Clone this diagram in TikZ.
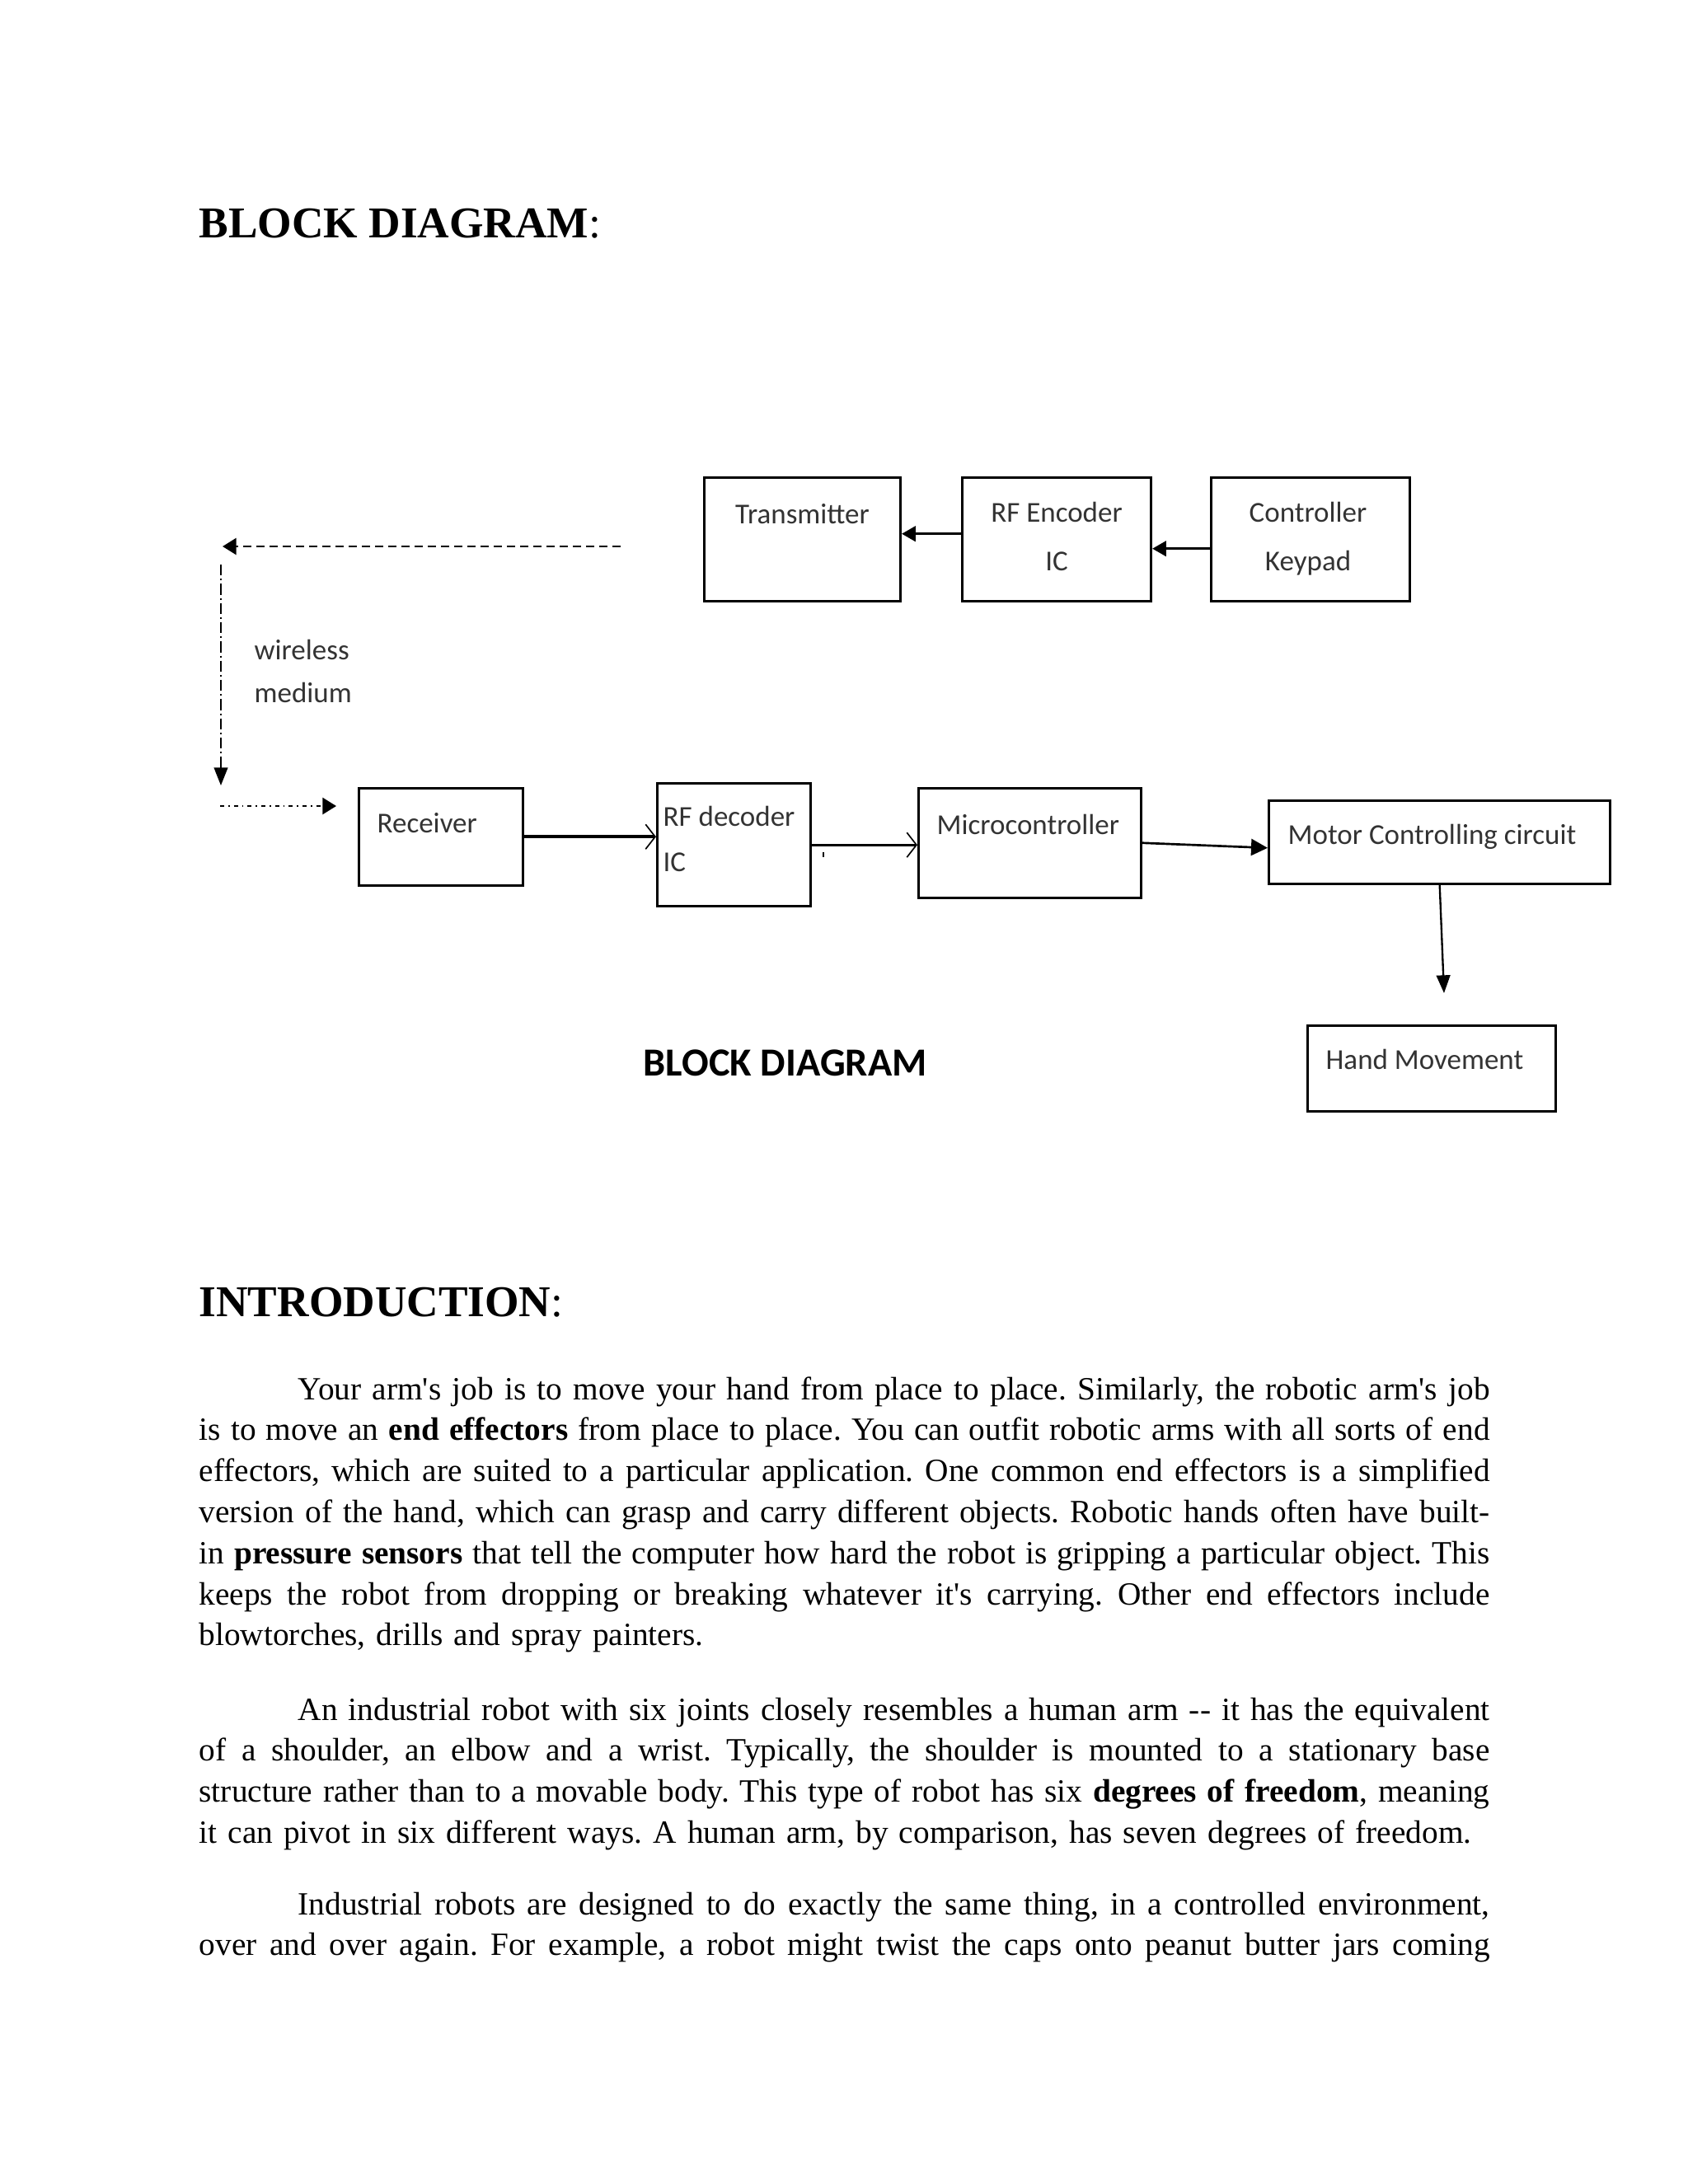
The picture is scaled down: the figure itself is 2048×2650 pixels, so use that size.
\documentclass[tikz,border=0pt]{standalone}
\usepackage{fontspec}
\setmainfont{Liberation Serif}
\newfontfamily\blockfont{Carlito}
\usetikzlibrary{arrows.meta, calc, positioning}
\newcommand{\px}[1]{#1*0.29883pt}
\newcommand{\apos}{\textquotesingle}
\newcommand{\jline}[1]{\hbox to \linewidth{\spaceskip=0.25em plus 0.4em minus 0.1em\relax #1}}
\frenchspacing
\tikzset{
  blk/.style        = {draw, line width=0.9pt, inner sep=0pt, anchor=north west},
  btxt/.style       = {font=\blockfont\fontsize{10.5pt}{12pt}\selectfont, text=black!80, inner sep=0pt},
  head/.style       = {font=\fontsize{16pt}{19pt}\selectfont, inner sep=0pt, anchor=base west},
  para/.style       = {font=\fontsize{11.8pt}{14.94pt}\selectfont, text width=6.5in, inner sep=0pt, anchor=base west},
  solidarrow/.style = {-{Triangle[length=5pt, width=5.5pt]}, line width=0.8pt},
  barbarrow/.style  = {-{Straight Barb[length=3.5pt, width=9pt, line width=0.5pt]}, line width=0.9pt},
  airdash/.style    = {dash pattern=on 3pt off 1.8pt, line width=0.8pt},
  airdrop/.style    = {dash pattern=on 4pt off 1.2pt on 0.6pt off 1.2pt, line width=0.6pt},
  airdot/.style     = {dash pattern=on 1.5pt off 1.5pt on 0.5pt off 1.5pt, line width=0.8pt},
}

\begin{document}
\begin{tikzpicture}[x=0.010542cm, y=-0.010542cm]
  \useasboundingbox[fill=white] (0,0) rectangle (2048,2650);

  % headings
  \node[head] (hblock) at (241,288) {\textbf{BLOCK DIAGRAM}:};
  \node[head] (hintro) at (241,1597) {\textbf{INTRODUCTION}:};

  % transmitter side
  \node[blk, minimum width=\px{239}, minimum height=\px{151}] (tx) at (853,578) {};
  \node[blk, minimum width=\px{230}, minimum height=\px{151}] (enc) at (1166,578) {};
  \node[blk, minimum width=\px{242}, minimum height=\px{151}] (kp) at (1468,578) {};
  \node[btxt, anchor=base] (txname) at ($(tx.north)+(0,57)$) {Transmitter};
  \node[btxt, anchor=base] (encname) at ($(enc.north)+(0,55)$) {RF Encoder};
  \node[btxt, anchor=base] (encic) at ($(enc.north)+(0,114)$) {IC};
  \node[btxt, anchor=base] (kpname) at ($(kp.north)+(-3,55)$) {Controller};
  \node[btxt, anchor=base] (kpkey) at ($(kp.north)+(-3,114)$) {Keypad};
  \draw[solidarrow] ($(kp.west)+(0,11)$) -- ($(enc.east)+(0,11)$);
  \draw[solidarrow] ($(enc.west)+(0,-7)$) -- ($(tx.east)+(0,-7)$);

  % wireless link
  \coordinate (airout) at (753,663);
  \coordinate (airtip) at (270,663);
  \coordinate (dropstart) at (268,685);
  \coordinate (droptip) at (268,953);
  \coordinate (rxfeed) at (267,978);
  \coordinate (rxtip) at (408,978);
  \draw[airdash, -{Triangle[length=5pt, width=6pt]}] (airout) -- (airtip);
  \draw[airdrop, -{Triangle[length=6.5pt, width=5pt]}] (dropstart) -- (droptip);
  \draw[airdot, -{Triangle[length=5pt, width=6pt]}] (rxfeed) -- (rxtip);
  \node[btxt, anchor=base west] (wl1) at (308,800) {wireless};
  \node[btxt, anchor=base west] (wl2) at (308,852) {medium};

  % receiver side
  \node[blk, minimum width=\px{200}, minimum height=\px{118}] (rx) at (434,955) {};
  \node[blk, minimum width=\px{187}, minimum height=\px{150}] (dec) at (796,949) {};
  \node[blk, minimum width=\px{271}, minimum height=\px{133}] (mcu) at (1113,955) {};
  \node[blk, minimum width=\px{416}, minimum height=\px{101}] (mot) at (1538,970) {};
  \node[blk, minimum width=\px{302}, minimum height=\px{104}] (hand) at (1585,1243) {};
  \node[btxt, anchor=base west] (rxname) at ($(rx.north west)+(23,55)$) {Receiver};
  \node[btxt, anchor=base west] (decname) at ($(dec.north west)+(8,53)$) {RF decoder};
  \node[btxt, anchor=base west] (decic) at ($(dec.north west)+(8,108)$) {IC};
  \node[btxt, anchor=base west] (mcuname) at ($(mcu.north west)+(23,57)$) {Microcontroller};
  \node[btxt, anchor=base west] (motname) at ($(mot.north west)+(24,54)$) {Motor Controlling circuit};
  \node[btxt, anchor=base west] (handname) at ($(hand.north west)+(23,54)$) {Hand Movement};
  \coordinate (handin) at (1752,1205);
  \draw[barbarrow, line width=1.2pt] (rx.east) -- (rx.east -| dec.west);
  \draw[barbarrow] (dec.east) -- (dec.east -| mcu.west);
  \draw[line width=0.6pt] (999,1034) -- (999,1040);
  \draw[solidarrow, -{Triangle[length=6pt, width=6pt]}] (mcu.east) -- ($(mot.west)+(0,7)$);
  \draw[solidarrow, line width=0.7pt, -{Triangle[length=6.5pt, width=5pt]}] (mot.south) -- (handin);
  \node[font=\blockfont\bfseries\fontsize{14.5pt}{18pt}\selectfont, anchor=base west, inner sep=0pt] (caption) at (780,1305) {BLOCK DIAGRAM};

  % introduction text, one justified box per printed line
  \node[para] (p1) at (241,1698) {%
    \jline{\hspace*{36pt}Your arm\apos s job is to move your hand from place to place. Similarly, the robotic arm\apos s job}
    \jline{is to move an \textbf{end effectors} from place to place. You can outfit robotic arms with all sorts of end}
    \jline{effectors, which are suited to a particular application. One common end effectors is a simplified}
    \jline{version of the hand, which can grasp and carry different objects. Robotic hands often have built-}
    \jline{in \textbf{pressure sensors} that tell the computer how hard the robot is gripping a particular object. This}
    \jline{keeps the robot from dropping or breaking whatever it\apos s carrying. Other end effectors include}
    \hbox{blowtorches, drills and spray painters.}};
  \node[para] (p2) at (241,2087) {%
    \jline{\hspace*{36pt}An industrial robot with six joints closely resembles a human arm -{}- it has the equivalent}
    \jline{of a shoulder, an elbow and a wrist. Typically, the shoulder is mounted to a stationary base}
    \jline{structure rather than to a movable body. This type of robot has six \textbf{degrees of freedom}, meaning}
    \hbox{it can pivot in six different ways. A human arm, by comparison, has seven degrees of freedom.}};
  \node[para] (p3) at (241,2323) {%
    \jline{\hspace*{36pt}Industrial robots are designed to do exactly the same thing, in a controlled environment,}
    \jline{over and over again. For example, a robot might twist the caps onto peanut butter jars coming}};
\end{tikzpicture}
\end{document}
